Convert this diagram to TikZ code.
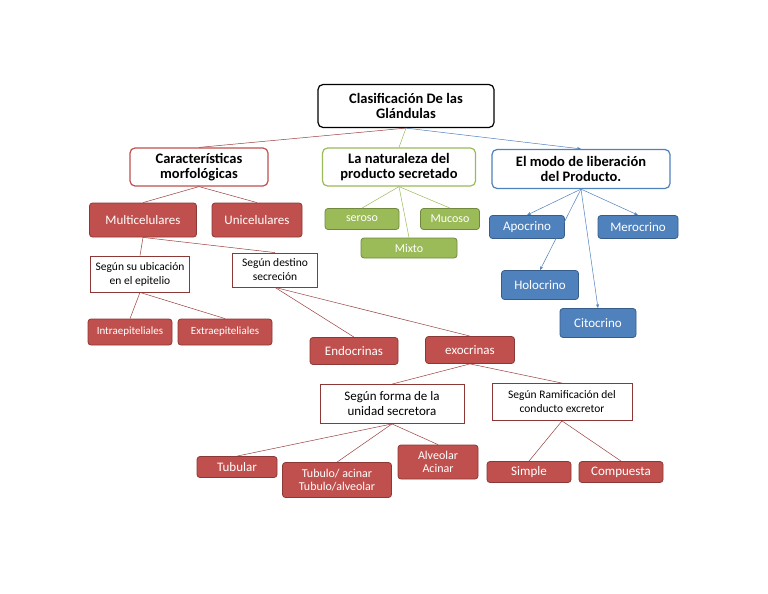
\documentclass[tikz,border=0pt]{standalone}
\usepackage{fontspec}
\setmainfont{Carlito}
\usetikzlibrary{arrows.meta}
\definecolor{rd}{HTML}{C0504D}\definecolor{rdd}{HTML}{8C3836}
\definecolor{gr}{HTML}{9BBB59}\definecolor{grd}{HTML}{71893F}
\definecolor{bl}{HTML}{4F81BD}\definecolor{bld}{HTML}{385D8A}
\begin{document}
\begin{tikzpicture}[x=1pt,y=-1pt,
 bx/.style={rounded corners=3pt,minimum width=#1,inner sep=1pt,align=center,line width=0.8pt},
 hd/.style={bx=#1,draw,fill=white,font=\fontsize{14.5}{15.5}\selectfont\bfseries,rounded corners=5pt,line width=1.2pt},
 rf/.style={bx=#1,draw=rdd,fill=rd,text=white,font=\fontsize{13}{14}\selectfont},
 gf/.style={bx=#1,draw=grd,fill=gr,text=white,font=\fontsize{12}{13}\selectfont},
 bf/.style={bx=#1,draw=bld,fill=bl,text=white,font=\fontsize{13}{14}\selectfont},
 wr/.style={draw=rdd,fill=white,minimum width=#1,inner sep=1pt,align=center,line width=0.8pt,font=\fontsize{11.5}{14}\selectfont},
 rl/.style={draw=rd!80!black,line width=0.5pt},
 gl/.style={draw=gr,line width=0.5pt},
 bll/.style={draw=bl,line width=0.5pt,-{Stealth[length=4pt,width=3pt]}}]
\useasboundingbox[fill=white] (0,0) rectangle (768,594);
\node[hd=176,minimum height=43,draw=black] (root) at (406,106) {Clasificación De las\\Glándulas};
\node[hd=138,minimum height=38,draw=rd] (car) at (199,167) {Características\\morfológicas};
\node[hd=153,minimum height=38,draw=gr] (nat) at (399,167) {La naturaleza del\\producto secretado};
\node[hd=178,minimum height=39,draw=bl] (mod) at (581,169) {El modo de liberación\\del Producto.};
\node[rf=107,minimum height=34] (mul) at (143,220) {Multicelulares};
\node[rf=90,minimum height=34] (uni) at (257,220) {Unicelulares};
\node[gf=74,minimum height=21] (ser) at (362,219) {seroso};
\node[gf=59,minimum height=21] (muc) at (450,219) {Mucoso};
\node[gf=96,minimum height=20] (mix) at (409,248) {Mixto};
\node[bf=75,minimum height=23] (apo) at (527,227) {Apocrino};
\node[bf=80,minimum height=23] (mer) at (638,227) {Merocrino};
\node[bf=77,minimum height=29] (hol) at (540,285) {Holocrino};
\node[bf=76,minimum height=29] (cit) at (598,323) {Citocrino};
\node[wr=99,minimum height=36] (ubi) at (140,274) {Según su ubicación\\en el epitelio};
\node[wr=85,minimum height=34] (des) at (275,270) {Según destino\\secreción};
\node[rf=84,minimum height=26,font=\fontsize{11}{12}\selectfont] (intra) at (130,332) {Intraepiteliales};
\node[rf=94,minimum height=26,font=\fontsize{11}{12}\selectfont] (extra) at (225,332) {Extraepiteliales};
\node[rf=88,minimum height=27] (endo) at (354,351) {Endocrinas};
\node[rf=89,minimum height=27] (exo) at (470,350) {exocrinas};
\node[wr=144,minimum height=39,font=\fontsize{13}{15}\selectfont] (forma) at (392,404) {Según forma de la\\unidad secretora};
\node[wr=140,minimum height=37] (ram) at (562,402) {Según Ramificación del\\conducto excretor};
\node[rf=80,minimum height=21] (tub) at (237,467) {Tubular};
\node[rf=109,minimum height=35,font=\fontsize{12}{13}\selectfont] (tac) at (337,480) {Tubulo/ acinar\\Tubulo/alveolar};
\node[rf=80,minimum height=34,font=\fontsize{12}{13}\selectfont] (alv) at (438,462) {Alveolar\\Acinar};
\node[rf=84,minimum height=21] (sim) at (529,472) {Simple};
\node[rf=84,minimum height=21] (com) at (621,472) {Compuesta};
\draw[rl] (root.south) -- (car.north);
\draw[gl] (root.south) -- (nat.north);
\draw[bll] (root.south) -- (mod.north);
\draw[rl] (car.south) -- (mul.north);
\draw[rl] (car.south) -- (uni.north);
\draw[gl] (nat.south) -- (ser.north);
\draw[gl] (nat.south) -- (muc.north);
\draw[gl] (nat.south) -- (mix.north);
\draw[bll] (mod.south) -- (apo.north);
\draw[bll] (mod.south) -- (mer.north);
\draw[bll] (mod.south) -- (hol.north);
\draw[bll] (mod.south) -- (cit.north);
\draw[rl] (mul.south) -- (ubi.north);
\draw[rl] (mul.south) -- (des.north);
\draw[rl] (ubi.south) -- (intra.north);
\draw[rl] (ubi.south) -- (extra.north);
\draw[rl] (des.south) -- (endo.north);
\draw[rl] (des.south) -- (exo.north);
\draw[rl] (exo.south) -- (forma.north);
\draw[rl] (exo.south) -- (ram.north);
\draw[rl] (forma.south) -- (tub.north);
\draw[rl] (forma.south) -- (tac.north);
\draw[rl] (forma.south) -- (alv.north);
\draw[rl] (ram.south) -- (sim.north);
\draw[rl] (ram.south) -- (com.north);
\end{tikzpicture}
\end{document}
